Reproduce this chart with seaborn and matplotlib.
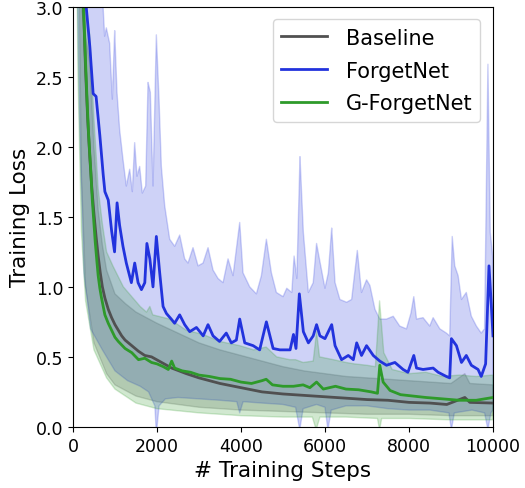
import numpy as np
import pandas as pd
import matplotlib
matplotlib.use('Agg')
import matplotlib.pyplot as plt
import seaborn as sns

# mean curves (steps, loss)
base_steps = [0, 100, 250, 300, 350, 400, 450, 500, 550, 600, 650, 700, 760, 840, 920, 1000, 1080,
              1160, 1240, 1320, 1400, 1560, 1710, 1870, 2110, 2350, 2700, 3000, 3500, 4000, 4500,
              5000, 5500, 6000, 6500, 7000, 7500, 8000, 8500, 8900, 9330, 9450, 10000]
base_loss = [6.0, 4.2, 3.0, 2.55, 2.2, 1.93, 1.7, 1.52, 1.36, 1.22, 1.1, 1.0, 0.92, 0.84, 0.78, 0.73,
             0.69, 0.65, 0.62, 0.60, 0.58, 0.54, 0.51, 0.50, 0.46, 0.42, 0.38, 0.35, 0.31, 0.28, 0.25,
             0.235, 0.225, 0.215, 0.205, 0.195, 0.19, 0.175, 0.17, 0.16, 0.21, 0.175, 0.17]

fn_steps = [0, 200, 300, 400, 480, 550, 640, 720, 760, 840, 920, 990, 1050, 1110, 1190, 1270, 1390,
            1470, 1550, 1630, 1710, 1760, 1830, 1905, 1985, 2065, 2145, 2225, 2340, 2420, 2540, 2660,
            2780, 2940, 3100, 3215, 3335, 3490, 3650, 3770, 3890, 3970, 4090, 4290, 4445, 4605, 4765,
            4925, 5170, 5250, 5310, 5390, 5485, 5605, 5720, 5800, 5880, 6000, 6160, 6240, 6395, 6555,
            6675, 6755, 6870, 6990, 7150, 7305, 7465, 7665, 7860, 7975, 8115, 8180, 8335, 8575, 8695,
            8890, 8970, 9010, 9130, 9250, 9365, 9485, 9645, 9720, 9825, 9905, 9960, 10000]
fn_loss = [6.0, 3.6, 3.05, 2.72, 2.38, 2.36, 2.08, 1.80, 1.68, 1.62, 1.40, 1.25, 1.60, 1.44, 1.29, 1.17,
           1.03, 1.17, 1.03, 0.98, 1.03, 1.31, 1.20, 1.00, 1.36, 1.10, 0.86, 0.81, 0.77, 0.74, 0.80, 0.73,
           0.68, 0.71, 0.65, 0.73, 0.65, 0.61, 0.67, 0.60, 0.62, 0.77, 0.60, 0.58, 0.55, 0.75, 0.56,
           0.55, 0.55, 0.66, 0.56, 0.95, 0.68, 0.60, 0.65, 0.73, 0.65, 0.63, 0.73, 0.58, 0.48, 0.51,
           0.48, 0.60, 0.51, 0.58, 0.51, 0.47, 0.44, 0.46, 0.41, 0.39, 0.51, 0.42, 0.41, 0.42, 0.39,
           0.36, 0.35, 0.63, 0.58, 0.46, 0.51, 0.44, 0.41, 0.36, 0.45, 1.15, 0.87, 0.65]

gfn_steps = [0, 100, 250, 300, 340, 370, 420, 460, 500, 530, 570, 600, 640, 680, 720, 760, 800, 840,
             920, 1000, 1080, 1240, 1400, 1560, 1710, 1870, 2000, 2150, 2270, 2350, 2420, 2600, 2800,
             3000, 3250, 3500, 3750, 4000, 4250, 4500, 4600, 4750, 5000, 5250, 5480, 5640, 5800, 5960,
             6250, 6500, 6800, 7100, 7250, 7305, 7385, 7550, 7800, 8100, 8400, 8800, 9200, 9600, 10000]
gfn_loss = [6.0, 4.0, 3.0, 2.6, 2.3, 2.1, 1.85, 1.62, 1.45, 1.32, 1.18, 1.08, 0.99, 0.92, 0.86, 0.80,
            0.77, 0.74, 0.69, 0.64, 0.61, 0.56, 0.53, 0.48, 0.49, 0.46, 0.45, 0.43, 0.41, 0.47, 0.42,
            0.40, 0.39, 0.37, 0.36, 0.345, 0.34, 0.32, 0.31, 0.33, 0.34, 0.30, 0.29, 0.29, 0.30, 0.28,
            0.32, 0.27, 0.29, 0.27, 0.265, 0.25, 0.24, 0.44, 0.32, 0.26, 0.23, 0.22, 0.21, 0.20, 0.19,
            0.19, 0.21]

# shaded bands (upper / lower bounds)
base_up_steps = [0, 200, 400, 500, 600, 700, 800, 1000, 1250, 1500, 1750, 2000, 2500, 3000, 3500,
                 4000, 4500, 5000, 5500, 6000, 6500, 7000, 7500, 8000, 8500, 9000, 9330, 9450, 10000]
base_up = [6.0, 3.0, 2.6, 2.0, 1.55, 1.3, 1.12, 0.95, 0.88, 0.82, 0.78, 0.74, 0.67, 0.60, 0.55,
           0.51, 0.47, 0.43, 0.40, 0.38, 0.36, 0.35, 0.34, 0.33, 0.32, 0.31, 0.38, 0.31, 0.30]
base_lo_steps = [0, 150, 200, 300, 500, 800, 1000, 1500, 2000, 3000, 4000, 5000, 6000, 7000, 8000,
                 9000, 10000]
base_lo = [6.0, 3.0, 1.8, 1.0, 0.6, 0.38, 0.30, 0.22, 0.18, 0.14, 0.12, 0.11, 0.10, 0.09, 0.09,
           0.08, 0.08]

fn_up_steps = [0, 700, 754, 794, 873, 937, 993, 1048, 1112, 1191, 1270, 1350, 1413, 1469, 1524, 1588,
               1651, 1731, 1787, 1842, 1906, 1985, 2049, 2104, 2184, 2303, 2422, 2541, 2660, 2739,
               2858, 2978, 3097, 3216, 3335, 3454, 3573, 3692, 3811, 3970, 4049, 4208, 4367, 4486,
               4605, 4724, 4843, 5002, 5090, 5210, 5265, 5330, 5405, 5485, 5605, 5720, 5800, 5880,
               6000, 6080, 6160, 6240, 6355, 6515, 6635, 6770, 6870, 6990, 7070, 7190, 7305, 7465,
               7625, 7780, 7940, 8045, 8115, 8180, 8335, 8495, 8575, 8735, 8890, 8970, 9030, 9090,
               9170, 9250, 9365, 9485, 9605, 9720, 9800, 9880, 9935, 10000]
fn_up = [6.0, 3.1, 2.79, 2.85, 2.74, 2.34, 2.83, 2.39, 2.12, 1.91, 1.72, 1.84, 1.68, 2.03, 1.79, 1.86,
         1.67, 1.72, 2.46, 2.39, 1.72, 2.80, 2.34, 1.86, 1.58, 1.34, 1.29, 1.37, 1.20, 1.17,
         1.28, 1.15, 1.17, 1.28, 1.12, 1.06, 1.03, 1.20, 1.08, 1.46, 1.10, 1.00, 0.95, 1.08,
         1.34, 1.10, 0.96, 0.93, 0.99, 0.96, 1.22, 1.06, 1.93, 1.39, 0.96, 1.03, 1.31, 1.18,
         0.99, 1.10, 1.42, 1.03, 0.91, 0.89, 0.91, 1.26, 0.96, 1.05, 1.01, 0.84, 0.77, 0.77,
         0.79, 0.72, 0.70, 0.81, 0.93, 0.77, 0.78, 0.72, 0.78, 0.70, 0.67, 0.65, 1.36, 1.15,
         1.08, 0.91, 0.96, 0.79, 0.72, 0.67, 0.70, 2.59, 1.39, 1.20]
fn_lo_steps = [0, 100, 160, 260, 420, 700, 1000, 1300, 1600, 1800, 1950, 1985, 2050, 2200, 2500,
               3000, 3500, 3900, 3970, 4050, 4500, 5000, 5300, 5400, 5480, 5800, 6000, 6070, 6150,
               6500, 7000, 7500, 8000, 8500, 8950, 9010, 9080, 9500, 9800, 9880, 9950, 10000]
fn_lo = [6.0, 3.2, 2.15, 1.10, 0.70, 0.55, 0.40, 0.33, 0.29, 0.25, 0.15, -0.05, 0.15, 0.20, 0.21,
         0.20, 0.19, 0.18, 0.10, 0.18, 0.17, 0.16, 0.14, -0.02, 0.13, 0.16, 0.14, -0.02, 0.12,
         0.15, 0.15, 0.13, 0.12, 0.12, 0.10, -0.02, 0.10, 0.12, 0.10, -0.02, 0.10, 0.12]

gfn_up_steps = [0, 280, 400, 500, 600, 700, 800, 950, 1200, 1600, 1750, 1830, 1900, 2300, 2700, 3100,
                3500, 3970, 4300, 4600, 4850, 5160, 5300, 5480, 5720, 5800, 5870, 6200, 6500, 6700,
                7000, 7200, 7300, 7400, 7600, 8000, 8400, 8800, 9200, 9600, 10000]
gfn_up = [6.0, 3.0, 2.8, 2.2, 1.7, 1.45, 1.25, 1.15, 1.0, 0.86, 0.82, 0.86, 0.80, 0.77, 0.69, 0.66,
          0.61, 0.58, 0.55, 0.57, 0.50, 0.48, 0.48, 0.46, 0.47, 0.68, 0.50, 0.48, 0.46, 0.45,
          0.44, 0.43, 0.90, 0.53, 0.41, 0.38, 0.39, 0.36, 0.37, 0.36, 0.37]
gfn_lo_steps = [0, 120, 200, 300, 500, 800, 1000, 1500, 2000, 3000, 4000, 5000, 5700, 5790, 5880,
                6500, 7250, 7300, 7350, 8000, 9000, 10000]
gfn_lo = [6.0, 2.5, 1.4, 0.9, 0.55, 0.35, 0.27, 0.17, 0.13, 0.10, 0.08, 0.07, 0.07, -0.02, 0.07,
          0.07, 0.06, -0.02, 0.06, 0.06, 0.05, 0.05]

labels = ['Baseline', 'ForgetNet', 'G-ForgetNet']
colors = ['#505050', '#2233dd', '#2e9a2a']

fig, ax = plt.subplots(figsize=(5.25, 4.89), dpi=100)
fig.subplots_adjust(left=0.139, right=0.939, top=0.984, bottom=0.125)

series = [
    (base_steps, base_loss, base_up_steps, base_up, base_lo_steps, base_lo),
    (fn_steps, fn_loss, fn_up_steps, fn_up, fn_lo_steps, fn_lo),
    (gfn_steps, gfn_loss, gfn_up_steps, gfn_up, gfn_lo_steps, gfn_lo),
]

for (s, l, us, u, ls, lo), name, c in zip(series, labels, colors):
    # band on a common grid built from the bound knots
    grid = np.array(sorted(set(us) | set(ls)))
    upper = np.interp(grid, us, u)
    lower = np.interp(grid, ls, lo)
    ax.fill_between(grid, lower, upper, color=c, alpha=0.22)
    df = pd.DataFrame({'step': s, 'loss': l})
    sns.lineplot(data=df, x='step', y='loss', color=c, linewidth=2.0, label=name, ax=ax)

ax.set_xlim(0, 10000)
ax.set_ylim(0, 3.0)
ax.set_xticks([0, 2000, 4000, 6000, 8000, 10000])
ax.set_xlabel('# Training Steps', fontsize=15.5)
ax.set_ylabel('Training Loss', fontsize=15.5)
ax.tick_params(labelsize=12.5)
ax.legend(loc='upper right', fontsize=15, handlelength=2.2, handletextpad=0.9,
          labelspacing=0.62, borderaxespad=0.6)

plt.savefig('out.png', dpi=100)
